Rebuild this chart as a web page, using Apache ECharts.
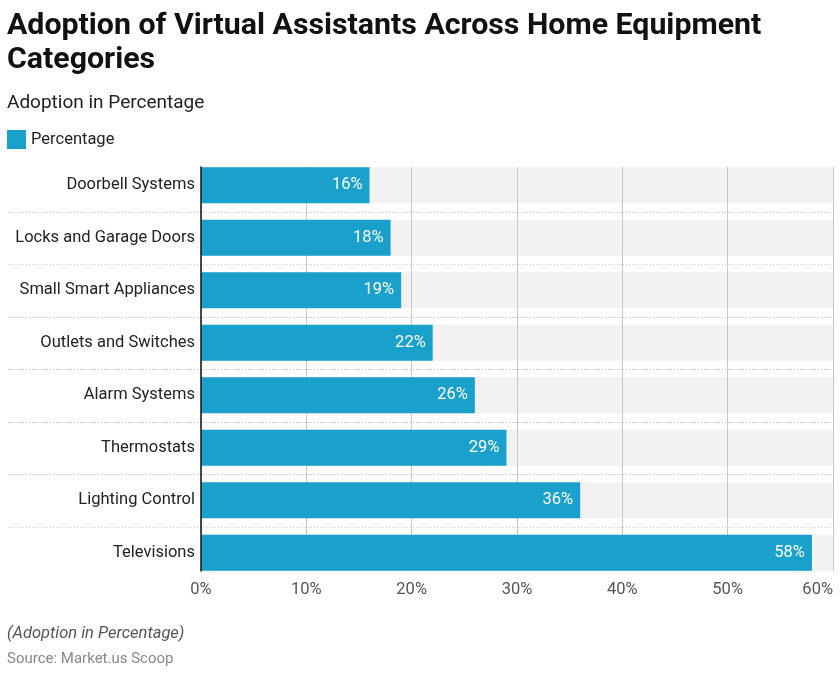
<!DOCTYPE html>
<html><head><meta charset="utf-8">
<script src="https://cdn.jsdelivr.net/npm/echarts@6/dist/echarts.min.js"></script>
<style>html,body{margin:0;padding:0;background:#fff}#c{width:840px;height:674px}</style>
</head><body><div id="c"></div>
<script>
const categories = ["Doorbell Systems","Locks and Garage Doors","Small Smart Appliances","Outlets and Switches","Alarm Systems","Thermostats","Lighting Control","Televisions"];
const values = [16, 18, 19, 22, 26, 29, 36, 58];
const xTicks = [0, 10, 20, 30, 40, 50, 60];
const seriesName = "Percentage";

const chart = echarts.init(document.getElementById('c'), null, {renderer: 'canvas'});
const F = 'Roboto, "Noto Sans", sans-serif';
const xMin = xTicks[0], xMax = xTicks[xTicks.length - 1], xStep = xTicks[1] - xTicks[0];
chart.setOption({
  animation: false,
  textStyle: {fontFamily: F},
  title: [
    {text: "Adoption of Virtual Assistants Across Home Equipment\nCategories", left: 7, top: 9, padding: 0,
     textStyle: {fontFamily: F, fontSize: 30.3, fontWeight: 'bold', color: '#111', lineHeight: 34}},
    {text: "Adoption in Percentage", left: 7, top: 94, padding: 0,
     textStyle: {fontFamily: F, fontSize: 19, fontWeight: 'normal', color: '#222'}},
    {text: "(Adoption in Percentage)", left: 7, top: 625, padding: 0,
     textStyle: {fontFamily: F, fontSize: 16.5, fontStyle: 'italic', fontWeight: 'normal', color: '#555'}},
    {text: "Source: Market.us Scoop", left: 7, top: 652, padding: 0,
     textStyle: {fontFamily: F, fontSize: 15, fontWeight: 'normal', color: '#888'}}
  ],
  legend: {left: 2, top: 125, itemWidth: 19, itemHeight: 19, itemGap: 10, icon: 'rect',
    textStyle: {fontFamily: F, fontSize: 16.5, color: '#222'}, data: [seriesName]},
  grid: [
    {left: 201, right: 7, top: 159, bottom: 95, containLabel: false},
    {left: 201, right: 7, top: 167, bottom: 103, containLabel: false}
  ],
  xAxis: [
    {gridIndex: 0, type: 'value', min: xMin, max: xMax, interval: xStep, show: false},
    {gridIndex: 1, type: 'value', min: xMin, max: xMax, interval: xStep, z: 2,
      axisLine: {show: false}, axisTick: {show: false},
      splitLine: {show: true, lineStyle: {color: '#c8c8c8', width: 1}},
      axisLabel: {formatter: v => v + '%', fontFamily: F, fontSize: 16.5, color: '#555', margin: 10, alignMaxLabel: 'right'}}
  ],
  yAxis: [
    {gridIndex: 0, type: 'category', data: categories, inverse: true,
      axisLine: {show: false}, axisTick: {show: false}, splitLine: {show: false},
      axisLabel: {fontFamily: F, fontSize: 16.5, color: '#222', margin: 6}},
    {gridIndex: 1, type: 'value', min: 0, max: 1, z: 4,
      axisLine: {show: true, lineStyle: {color: '#111', width: 1.5}},
      axisTick: {show: false}, splitLine: {show: false}, axisLabel: {show: false}}
  ],
  series: [{
    name: 'background', type: 'bar', xAxisIndex: 0, yAxisIndex: 0, silent: true, z: 1,
    data: categories.map(() => xMax), barWidth: '69%', barGap: '-100%',
    itemStyle: {color: '#f2f2f2'}
  }, {
    name: seriesName, type: 'bar', xAxisIndex: 0, yAxisIndex: 0, data: values, barWidth: '69%', barGap: '-100%', z: 3,
    itemStyle: {color: '#19a1cc'},
    label: {show: true, position: 'insideRight', formatter: p => p.value + '%',
      fontFamily: F, fontSize: 16.5, color: '#fff', distance: 7}
  }, {
    name: 'separators', type: 'custom', xAxisIndex: 0, yAxisIndex: 0, silent: true, z: 1, clip: false,
    data: categories.slice(0, -1).map((c, i) => [xMin, i]),
    encode: {x: 0, y: 1},
    renderItem: (params, api) => {
      const i = api.value(1);
      const a = api.coord([xMin, i]);
      const b = api.coord([xMin, i + 1]);
      const y = Math.round((a[1] + b[1]) / 2) + 0.5;
      const xr = api.coord([xMax, i])[0];
      return {type: 'line', shape: {x1: 8, y1: y, x2: xr, y2: y},
        style: {stroke: '#c4c4c4', lineWidth: 1, lineDash: [1, 2]}};
    }
  }]
});
</script></body></html>
